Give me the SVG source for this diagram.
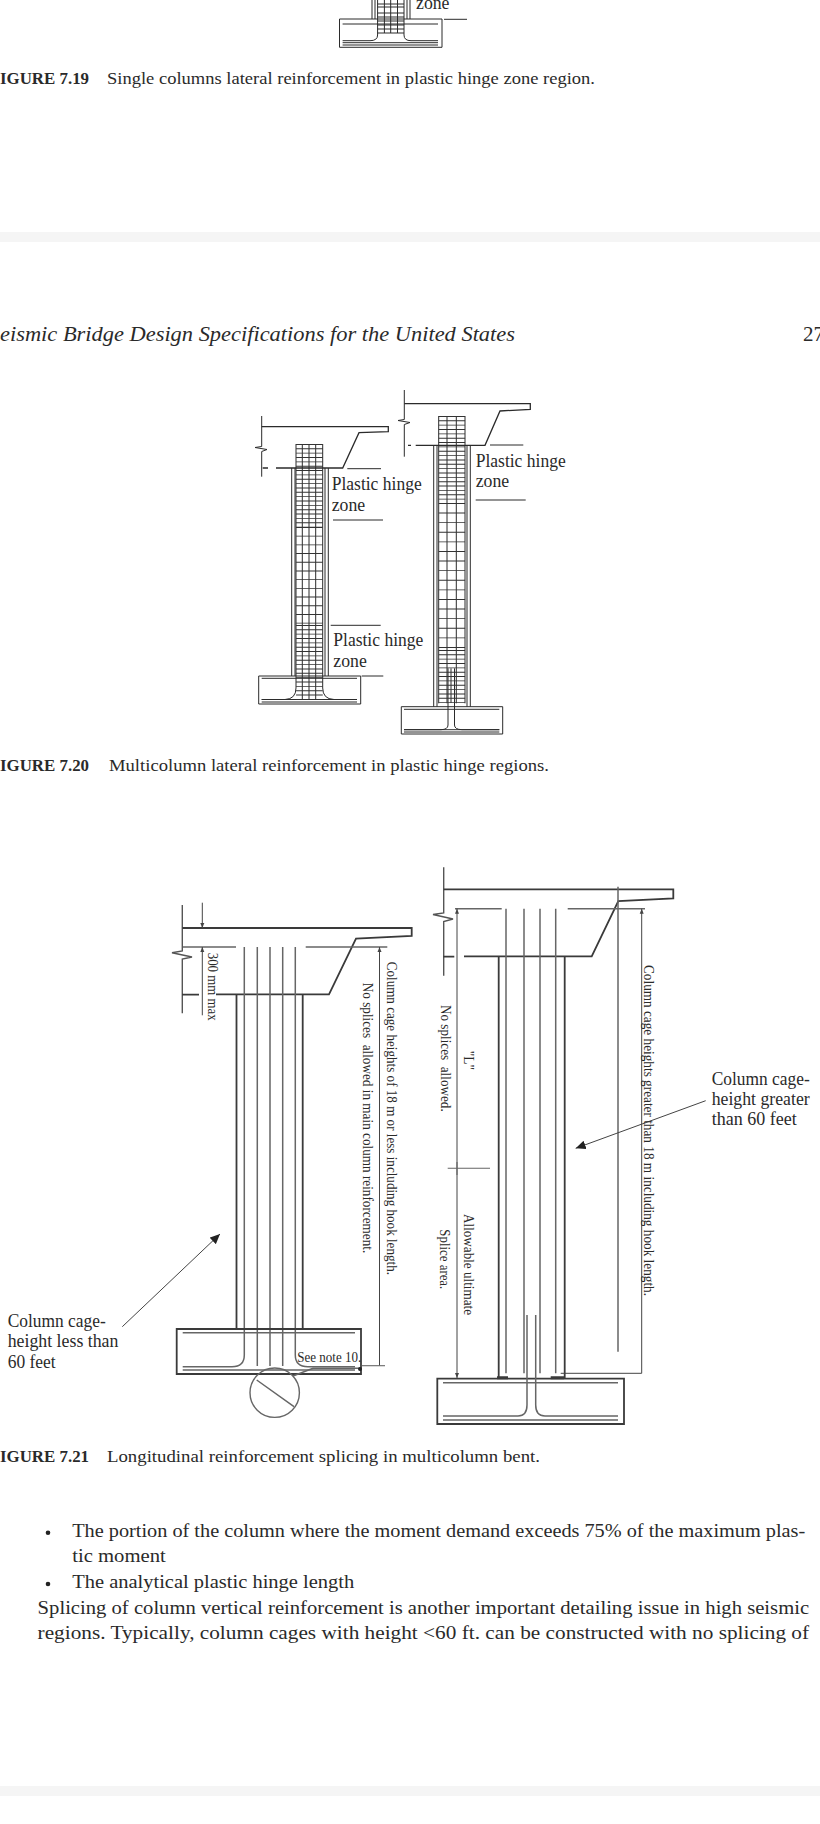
<svg xmlns="http://www.w3.org/2000/svg" width="820" height="1824" viewBox="0 0 820 1824">
<style>
text{font-family:"Liberation Serif","Times New Roman",serif;fill:#2a2a2a}
.b{font-size:19.5px}.c{font-size:17px}.l{font-size:18px}.d{font-size:14px}
.bold{font-weight:bold}
.k{fill:none;stroke:#2b2b2b;stroke-width:1}
.h{fill:none;stroke:#3a3a3a;stroke-width:1.8}
.g{fill:none;stroke:#555;stroke-width:1.4}
.f{fill:none;stroke:#666;stroke-width:1.1}
.m{fill:none;stroke:#444;stroke-width:1}
.dense{stroke:#333;fill:none}
.bar{fill:#f5f5f5}
</style>
<defs>
<marker id="big" markerUnits="userSpaceOnUse" markerWidth="11" markerHeight="10" refX="10" refY="4.5" orient="auto"><path d="M0,0L10,4.5L0,9z" fill="#222"/></marker>
<marker id="small" markerUnits="userSpaceOnUse" markerWidth="6" markerHeight="6" refX="5" refY="2.5" orient="auto"><path d="M0,0.5L5,2.5L0,4.5z" fill="#444"/></marker>
</defs>
<rect width="820" height="1824" fill="#fff"/>
<rect class="bar" y="232" width="820" height="10"/>
<rect class="bar" y="1786" width="820" height="10"/>

<g id="fig-7-19">
<path class="k" d="M372,0V19M375,0V19M407,0V19M410,0V19M339.5,19H442V47.3H339.5ZM444,19.3H467M342.6,24H438M342.6,42.7H438M342.6,45H438"/>
<path class="k" d="M377.6,0V33M384.4,0V33M390.7,0V33M397.5,0V33M404,0V33M377.6,4H404M377.6,7H404M377.6,13H404M377.6,17H404M377.6,21H404M377.6,25H404M377.6,29H404M377.6,33H404"/>
<path class="k" d="M377.6,33V35Q377.6,40.7 370,40.7H342.6M404,33V35Q404,40.7 411,40.7H438"/>
<text class="l" x="416" y="8.7" textLength="33.5" lengthAdjust="spacingAndGlyphs">zone</text>
</g>
<text class="c bold" x="0" y="84" textLength="89" lengthAdjust="spacingAndGlyphs">IGURE 7.19</text>
<text class="c" x="107" y="84" textLength="488" lengthAdjust="spacingAndGlyphs">Single columns lateral reinforcement in plastic hinge zone region.</text>
<text x="0" y="341" font-size="22" font-style="italic" textLength="515" lengthAdjust="spacingAndGlyphs">eismic Bridge Design Specifications for the United States</text>
<text x="803" y="341" font-size="21">27</text>

<g id="fig-7-20-left">
<path class="k" d="M261.7,416V446.5L255,447.5L267,449.5L261.7,451.5V476.7"/>
<path class="k" style="stroke-width:1.3" d="M261.7,426.7H388.3V431.7L359,432.7L342.7,468H276M262.7,468H268"/>
<path class="k" d="M291.7,468V676M295,468V676M325,468V676M328.3,468V676M347.3,468.7H381M333,520H383M330.7,625.3H380.7M361.7,676H383.3"/>
<path class="k" d="M258.7,676H360.7V704H258.7ZM261.7,678.3H357M261.7,699.5H357M261.7,702H357"/>
<path class="k" d="M296,444V688Q296,699 285,699.5H261.7M322.7,444V688Q322.7,699 334,699.5H357M302.3,444V700M309,444V700M315.7,444V700"/>
<line class="dense" x1="309.4" x2="309.4" y1="444" y2="527" style="stroke-width:26.7;stroke-dasharray:0.9 3.45"/>
<line class="dense" x1="309.4" x2="309.4" y1="527" y2="625" style="stroke-width:26.7;stroke-dasharray:0.9 7.8"/>
<line class="dense" x1="309.4" x2="309.4" y1="625" y2="700" style="stroke-width:26.7;stroke-dasharray:0.9 3.45"/>
<text class="l" x="331.7" y="490" textLength="90" lengthAdjust="spacingAndGlyphs">Plastic hinge</text>
<text class="l" x="331.7" y="511" textLength="33.5" lengthAdjust="spacingAndGlyphs">zone</text>
<text class="l" x="333.3" y="645.7" textLength="90" lengthAdjust="spacingAndGlyphs">Plastic hinge</text>
<text class="l" x="333.3" y="667" textLength="33.5" lengthAdjust="spacingAndGlyphs">zone</text>
</g>

<g id="fig-7-20-right">
<path class="k" d="M404.3,390V419.5L398,420.5L410,422.5L404.3,424.5V456.7"/>
<path class="k" style="stroke-width:1.3" d="M404.3,403.7H530.3V409.3L500,411L485,445.3H415.7M408,445.3H411"/>
<path class="k" d="M433.7,445V706.7M437,445V706.7M467,445V706.7M470.3,445V706.7M490,445H523.3M475.7,500H525.7"/>
<path class="k" d="M401.3,706.7H502.7V734H401.3ZM404,709.3H499.3M404,729.7H499.3M404,732H499.3"/>
<path class="k" d="M438.7,416V703.3M447,416V703.3M456.3,416V703.3M465,416V703.3M448,668.3V725Q448,729.5 441,729.7H404M454.5,668.3V725Q454.5,729.5 462,729.7H499.3M451,668.3V703"/>
<line class="dense" x1="451.9" x2="451.9" y1="416" y2="503" style="stroke-width:26.3;stroke-dasharray:0.9 3.45"/>
<line class="dense" x1="451.9" x2="451.9" y1="503" y2="650" style="stroke-width:26.3;stroke-dasharray:0.9 8.7"/>
<line class="dense" x1="451.9" x2="451.9" y1="650" y2="703.3" style="stroke-width:26.3;stroke-dasharray:0.9 3.45"/>
<text class="l" x="475.7" y="466.7" textLength="90" lengthAdjust="spacingAndGlyphs">Plastic hinge</text>
<text class="l" x="475.7" y="486.7" textLength="33.5" lengthAdjust="spacingAndGlyphs">zone</text>
</g>
<text class="c bold" x="0" y="771" textLength="89" lengthAdjust="spacingAndGlyphs">IGURE 7.20</text>
<text class="c" x="109" y="771" textLength="440" lengthAdjust="spacingAndGlyphs">Multicolumn lateral reinforcement in plastic hinge regions.</text>

<g id="fig-7-21-left">
<path class="g" d="M182.3,905V951L172,952.7L192,957L182.3,959V1013.3"/>
<path class="h" d="M182.3,928H411.7V936L356,938.7L329,994.3H216M182,994.7H199"/>
<path class="f" style="stroke-width:1.4" d="M183,947H236M305.7,947H387.3"/>
<path class="h" d="M236.5,994.5V1329M302.7,994.5V1329"/>
<path class="f" style="stroke-width:1.5" d="M257.3,947V1366M270,947V1366M282.7,947V1366"/>
<path class="f" style="stroke-width:1.5" d="M244.3,947V1355Q244.3,1366.7 232,1366.7H182.7M295.3,947V1355Q295.3,1366.7 308,1366.7H355"/>
<path class="h" d="M176.7,1329H361V1374H176.7Z"/>
<path class="f" style="stroke-width:1.5" d="M182.7,1332.7H355M182.7,1370H355"/>
<circle class="f" style="stroke-width:1.4" cx="274.7" cy="1392.7" r="24.7"/>
<path class="f" style="stroke-width:1.5" d="M256.7,1380L294,1406.7M293,1376L313,1368.3H360"/>
<path class="m" marker-end="url(#small)" d="M202.3,902.7V928"/>
<path class="m" marker-end="url(#small)" d="M202.3,1015.3V947"/>
<path class="m" marker-end="url(#small)" d="M379.5,1365.7V947"/>
<path class="f" d="M361.7,1365.7H385"/>
<path class="m" marker-end="url(#big)" d="M122.3,1326.7L220,1234"/>
<circle cx="360" cy="1369" r="2" fill="#222"/>
<text class="d" transform="rotate(90 208 952.7)" x="208" y="952.7" textLength="68" lengthAdjust="spacingAndGlyphs">300 mm max</text>
<text class="d" transform="rotate(90 387.3 961.7)" x="387.3" y="961.7" textLength="313.3" lengthAdjust="spacingAndGlyphs">Column cage heights of 18 m or less including hook length.</text>
<text class="d" transform="rotate(90 363.3 982.7)" x="363.3" y="982.7" textLength="270.6" lengthAdjust="spacingAndGlyphs" xml:space="preserve">No splices  allowed in main column reinforcement.</text>
<text class="d" x="297.3" y="1362.3" textLength="64" lengthAdjust="spacingAndGlyphs">See note 10.</text>
<text class="l" x="7.7" y="1327.3" textLength="98" lengthAdjust="spacingAndGlyphs">Column cage-</text>
<text class="l" x="7.7" y="1347.3" textLength="110.7" lengthAdjust="spacingAndGlyphs">height less than</text>
<text class="l" x="7.7" y="1368" textLength="48" lengthAdjust="spacingAndGlyphs">60 feet</text>
</g>

<g id="fig-7-21-right">
<path class="g" d="M443.7,867.3V913L433,914.5L453,919L443.7,921.5V975.7"/>
<path class="h" d="M443.7,889.3H673.3V898.3L618.3,901L591.7,956.3H464M443.3,956.7H454.3"/>
<path class="f" style="stroke-width:1.4" d="M455,908.7H501.7M567.7,908.7H645"/>
<path class="h" d="M498.7,956.5V1378M564.7,956.5V1378"/>
<path class="f" style="stroke-width:1.5" d="M506,908.7V1373.3M524,908.7V1373.3M540,908.7V1373.3M555.7,908.7V1373.3M618,886.7V1351.7"/>
<path class="h" d="M437.3,1378.7H624V1424H437.3Z"/>
<path class="f" style="stroke-width:1.5" d="M443,1382.7H618M443,1416H518Q527,1416 527,1405V1315M535.7,1315V1405Q535.7,1416 545,1416H618M443,1420H618"/>
<path class="h" style="stroke-width:3" d="M497,1377.7H508M550.7,1377.7H564"/>
<path class="m" marker-end="url(#small)" d="M457,1168V908.7"/>
<path class="m" marker-end="url(#small)" d="M457,1168V1378"/>
<path class="f" d="M447.7,1168.3H490M457,1162V1175"/>
<path class="m" marker-end="url(#small)" d="M641.7,1373.3V908.7"/>
<path class="m" d="M560.7,1373.3H641.7"/>
<path class="m" marker-end="url(#big)" d="M705.7,1100.7L575.7,1148.3"/>
<text class="d" transform="rotate(90 440.7 1005)" x="440.7" y="1005" textLength="106.7" lengthAdjust="spacingAndGlyphs" xml:space="preserve">No splices  allowed.</text>
<text class="d" transform="rotate(90 464 1050.7)" x="464" y="1050.7" textLength="19.3" lengthAdjust="spacingAndGlyphs">"L"</text>
<text class="d" transform="rotate(90 644 965)" x="644" y="965" textLength="331" lengthAdjust="spacingAndGlyphs">Column cage heights greater than 18 m including hook length.</text>
<text class="d" transform="rotate(90 464 1214)" x="464" y="1214" textLength="101" lengthAdjust="spacingAndGlyphs">Allowable ultimate</text>
<text class="d" transform="rotate(90 440 1229.3)" x="440" y="1229.3" textLength="60" lengthAdjust="spacingAndGlyphs">Splice area.</text>
<text class="l" x="711.7" y="1085" textLength="98" lengthAdjust="spacingAndGlyphs">Column cage-</text>
<text class="l" x="711.7" y="1105" textLength="98" lengthAdjust="spacingAndGlyphs">height greater</text>
<text class="l" x="711.7" y="1125" textLength="85" lengthAdjust="spacingAndGlyphs">than 60 feet</text>
</g>
<text class="c bold" x="0" y="1461.7" textLength="89" lengthAdjust="spacingAndGlyphs">IGURE 7.21</text>
<text class="c" x="107" y="1461.7" textLength="433" lengthAdjust="spacingAndGlyphs">Longitudinal reinforcement splicing in multicolumn bent.</text>

<g id="body-text">
<circle cx="48" cy="1532.7" r="2.3" fill="#222"/>
<circle cx="48" cy="1584" r="2.3" fill="#222"/>
<text class="b" x="72.2" y="1536.7" textLength="733" lengthAdjust="spacingAndGlyphs">The portion of the column where the moment demand exceeds 75% of the maximum plas-</text>
<text class="b" x="72.2" y="1561.7" textLength="93.6" lengthAdjust="spacingAndGlyphs">tic moment</text>
<text class="b" x="72.2" y="1587.7" textLength="282" lengthAdjust="spacingAndGlyphs">The analytical plastic hinge length</text>
<text class="b" x="37.6" y="1614" textLength="771.5" lengthAdjust="spacingAndGlyphs">Splicing of column vertical reinforcement is another important detailing issue in high seismic</text>
<text class="b" x="37.6" y="1639" textLength="771.5" lengthAdjust="spacingAndGlyphs">regions. Typically, column cages with height &lt;60 ft. can be constructed with no splicing of</text>
</g>
</svg>
